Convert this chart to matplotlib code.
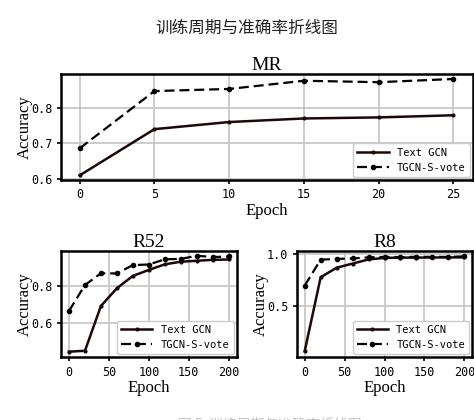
import matplotlib
matplotlib.use("Agg")
import matplotlib.pyplot as plt

# MR dataset (epochs 0..25)
mr_epochs = [0, 5, 10, 15, 20, 25]
mr_textgcn = [0.610, 0.740, 0.760, 0.770, 0.773, 0.779]
mr_tgcn = [0.686, 0.847, 0.853, 0.876, 0.872, 0.881]

# R52 / R8 datasets (epochs 0..200)
r_epochs = [0, 20, 40, 60, 80, 100, 120, 140, 160, 180, 200]
r52_textgcn = [0.448, 0.453, 0.693, 0.788, 0.854, 0.886, 0.916, 0.930, 0.935, 0.940, 0.942]
r52_tgcn = [0.666, 0.805, 0.868, 0.867, 0.912, 0.915, 0.943, 0.945, 0.962, 0.955, 0.958]
r8_textgcn = [0.060, 0.777, 0.870, 0.910, 0.950, 0.965, 0.968, 0.968, 0.969, 0.970, 0.970]
r8_tgcn = [0.696, 0.948, 0.955, 0.960, 0.970, 0.975, 0.973, 0.976, 0.975, 0.975, 0.980]

labels = ["Text GCN", "TGCN-S-vote"]

SERIF = "Liberation Serif"
MONO = "DejaVu Sans Mono"
CJK = ["Noto Sans CJK SC", "DejaVu Sans"]
LINE_COLOR = "#1c0808"

fig = plt.figure(figsize=(4.74, 4.20), dpi=100)
fig.text(0.52, 0.933, "训练周期与准确率折线图", ha="center", va="center",
         fontsize=12, family=CJK, color="#222222")
# caption of the scanned page, only its top edge shows at the bottom
fig.text(0.57, -0.012, "图 5  训练周期与准确率折线图", ha="center", va="center",
         fontsize=10, family=CJK, color="#c4c4c4")


def draw_panel(ax, x, y1, y2, title, xticks, yticks, ylim, xlim):
    ax.plot(x, y1, "-", marker=".", color=LINE_COLOR, lw=1.8, ms=4, label=labels[0])
    ax.plot(x, y2, "--", marker=".", color="black", lw=1.6, ms=6,
            dashes=(4.5, 2.2), label=labels[1])
    ax.set_title(title, family=SERIF, fontsize=14, pad=2)
    ax.set_xlabel("Epoch", family=SERIF, fontsize=12, labelpad=1)
    ax.set_ylabel("Accuracy", family=SERIF, fontsize=12, labelpad=-1)
    ax.set_xticks(xticks)
    ax.set_yticks(yticks)
    ax.set_xlim(xlim)
    ax.set_ylim(ylim)
    ax.grid(True, color="#c8c8c8", lw=1.3)
    ax.set_axisbelow(True)
    for s in ax.spines.values():
        s.set_linewidth(1.8)
    ax.tick_params(length=3, width=1.2, pad=3, labelsize=8.5)
    for lab in ax.get_xticklabels() + ax.get_yticklabels():
        lab.set_family(MONO)
    leg = ax.legend(loc="lower right", prop={"family": MONO, "size": 7.5},
                    handlelength=3.0, borderaxespad=0.3, labelspacing=0.5,
                    edgecolor="#cccccc", framealpha=1.0)
    return leg


ax_mr = fig.add_axes([0.1287, 0.5714, 0.869, 0.2524])
draw_panel(ax_mr, mr_epochs, mr_textgcn, mr_tgcn, "MR",
           [0, 5, 10, 15, 20, 25], [0.6, 0.7, 0.8], (0.597, 0.895), (-1.25, 26.3))

ax_r52 = fig.add_axes([0.1287, 0.1493, 0.3707, 0.2538])
draw_panel(ax_r52, r_epochs, r52_textgcn, r52_tgcn, "R52",
           [0, 50, 100, 150, 200], [0.6, 0.8], (0.418, 0.989), (-10, 210))

ax_r8 = fig.add_axes([0.626, 0.1493, 0.3705, 0.2538])
draw_panel(ax_r8, r_epochs, r8_textgcn, r8_tgcn, "R8",
           [0, 50, 100, 150, 200], [0.5, 1.0], (0.0, 1.035), (-10, 210))

fig.savefig("out.png", dpi=100)
